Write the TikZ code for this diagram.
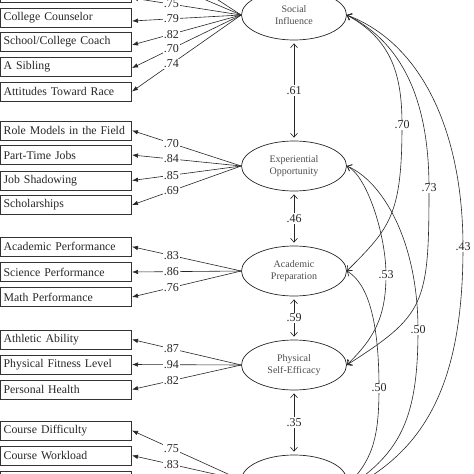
\documentclass[tikz,border=0pt]{standalone}
\usepackage{fontspec}
\setmainfont{Liberation Serif}
\usetikzlibrary{arrows.meta,shapes.geometric}
\begin{document}
\begin{tikzpicture}[x=1pt,y=-1pt,
  box/.style={draw=black!80, line width=0.7pt, anchor=east, text width=124.5pt, align=left,
    inner xsep=3.5pt, inner ysep=0pt, minimum height=19pt, text=black!85,
    font=\fontsize{11.8}{14}\selectfont},
  lat/.style={draw=black!85, line width=0.7pt, ellipse, minimum width=105pt,
    minimum height=50pt, inner sep=0pt, align=center, text=black!70,
    font=\fontsize{10}{12}\selectfont},
  load/.style={draw=black!85, line width=0.6pt, -{Latex[length=6pt,width=4.5pt]}},
  lab/.style={fill=white, inner sep=1pt, text=black!85, font=\fontsize{12}{14}\selectfont},
  cov/.style={draw=black!85, line width=0.6pt,
    {Straight Barb[length=4pt,width=7pt]}-{Straight Barb[length=4pt,width=7pt]}},
]
\path[use as bounding box, clip] (0,0) rectangle (474,474);

% latent variables
\node[lat] (si)  at (294,15)  {Social\\Influence};
\node[lat] (eo)  at (294,166) {Experiential\\Opportunity};
\node[lat] (ap)  at (294,271) {Academic\\Preparation};
\node[lat] (pse) at (294,365) {Physical\\Self-Efficacy};
\node[lat] (bot) at (294,480) {};

% indicators: social influence
\coordinate (am2) at (132,-56);
\coordinate (am1) at (132,-31.5);
\node[box] (a0) at (132,-7) {};
\node[box] (a1) at (132,17.5) {\mbox{College Counselor}};
\node[box] (a2) at (132,42) {\mbox{School/College Coach}};
\node[box] (a3) at (132,67) {\mbox{A Sibling}};
\node[box] (a4) at (132,91.5) {\mbox{Attitudes Toward Race}};
% experiential opportunity
\node[box] (e1) at (132,130.5) {\mbox{Role Models in the Field}};
\node[box] (e2) at (132,155) {\mbox{Part-Time Jobs}};
\node[box] (e3) at (132,180.5) {\mbox{Job Shadowing}};
\node[box] (e4) at (132,205) {\mbox{Scholarships}};
% academic preparation
\node[box] (p1) at (132,246.7) {\mbox{Academic Performance}};
\node[box] (p2) at (132,272) {\mbox{Science Performance}};
\node[box] (p3) at (132,297) {\mbox{Math Performance}};
% physical self-efficacy
\node[box] (f1) at (132,339.5) {\mbox{Athletic Ability}};
\node[box] (f2) at (132,364.5) {\mbox{Physical Fitness Level}};
\node[box] (f3) at (132,389.5) {\mbox{Personal Health}};
% bottom factor
\node[box] (c1) at (132,430.5) {\mbox{Course Difficulty}};
\node[box] (c2) at (132,455.5) {\mbox{Course Workload}};
\node[box] (c3) at (132,481) {};

% loadings
\draw[load] (si.west) -- (am2);
\draw[load] (si.west) -- (am1);
\draw[load] (si.west) -- node[lab,pos=0.64]{.75} ([yshift=-5pt]a0.east);
\draw[load] (si.west) -- node[lab,pos=0.64]{.79} ([yshift=-3.5pt]a1.east);
\draw[load] (si.west) -- node[lab,pos=0.64]{.82} ([yshift=-3pt]a2.east);
\draw[load] (si.west) -- node[lab,pos=0.64]{.70} ([yshift=-1pt]a3.east);
\draw[load] (si.west) -- node[lab,pos=0.64]{.74} (a4.east);

\draw[load] (eo.west) -- node[lab,pos=0.64]{.70} (e1.east);
\draw[load] (eo.west) -- node[lab,pos=0.64]{.84} (e2.east);
\draw[load] (eo.west) -- node[lab,pos=0.64]{.85} (e3.east);
\draw[load] (eo.west) -- node[lab,pos=0.64]{.69} (e4.east);

\draw[load] (ap.west) -- node[lab,pos=0.64]{.83} (p1.east);
\draw[load] (ap.west) -- node[lab,pos=0.64]{.86} (p2.east);
\draw[load] (ap.west) -- node[lab,pos=0.64]{.76} (p3.east);

\draw[load] (pse.west) -- node[lab,pos=0.64]{.87} (f1.east);
\draw[load] (pse.west) -- node[lab,pos=0.64]{.94} (f2.east);
\draw[load] (pse.west) -- node[lab,pos=0.64]{.82} (f3.east);

\draw[load] (bot.west) -- node[lab,pos=0.64]{.75} (c1.east);
\draw[load] (bot.west) -- node[lab,pos=0.64]{.83} (c2.east);
\draw[load] (bot.west) -- (c3.east);

% vertical correlations
\draw[cov, shorten <=3pt, shorten >=3pt] (si.south) -- node[lab]{.61} (eo.north);
\draw[cov, shorten <=3pt, shorten >=3pt] (eo.south) -- node[lab]{.46} (ap.north);
\draw[cov, shorten <=3pt, shorten >=3pt] (ap.south) -- node[lab]{.59} (pse.north);
\draw[cov, shorten <=3pt, shorten >=3pt] (pse.south) -- node[lab]{.35} (bot.north);

% curved correlations
\draw[cov] (si.east) .. controls (392,40) and (402,75) .. (402,125) node[lab]{.70}
  .. controls (402,215) and (390,228) .. (ap.east);
\draw[cov] (si.east) .. controls (407,45) and (429,108) .. (429,188) node[lab]{.73}
  .. controls (429,305) and (425,315) .. (pse.east);
\draw[cov] (si.east) .. controls (425,45) and (463,137) .. (463,247) node[lab]{.43}
  .. controls (463,385) and (425,455) .. (bot.-18);
\draw[cov] (eo.east) .. controls (367,176) and (386,235) .. (386,275) node[lab]{.53}
  .. controls (386,320) and (372,340) .. (pse.east);
\draw[cov] (eo.east) .. controls (382,181) and (418,240) .. (418,330) node[lab]{.50}
  .. controls (418,420) and (400,455) .. (bot.-14);
\draw[cov] (ap.east) .. controls (367,283) and (379,318) .. (379,388) node[lab]{.50}
  .. controls (379,440) and (372,462) .. (bot.-10);
\end{tikzpicture}
\end{document}
